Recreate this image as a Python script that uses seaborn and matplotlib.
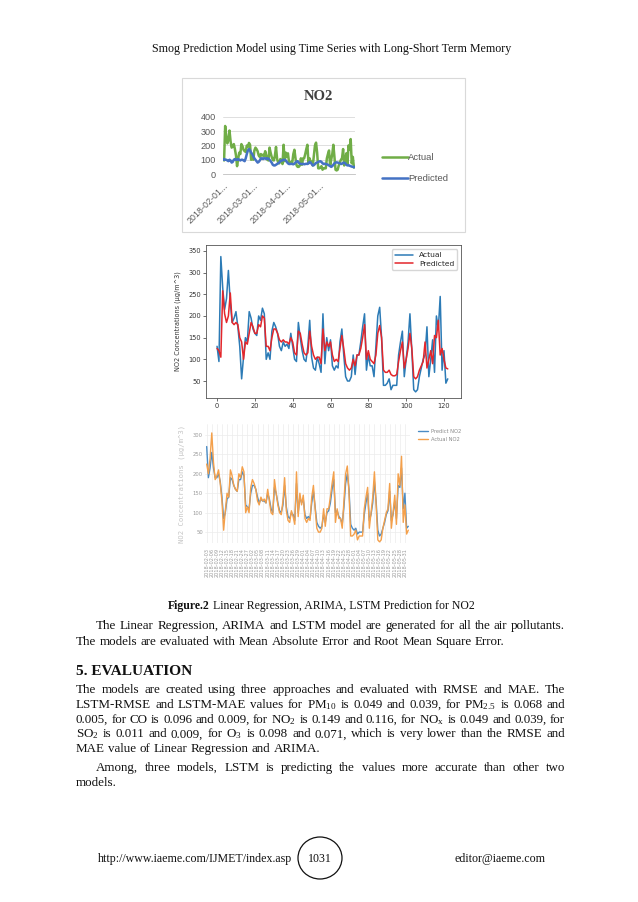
import numpy as np
import pandas as pd
import matplotlib
matplotlib.use("Agg")
import matplotlib.pyplot as plt
import seaborn as sns
from matplotlib.patches import Rectangle, Ellipse
from matplotlib.lines import Line2D

# ------------------------------------------------------------------ data
no2_actual = [
    130, 95, 337, 265, 215, 240, 305, 230, 185, 195,
    210, 175, 130, 55, 105, 150, 140, 210, 195, 170,
    160, 155, 200, 190, 218, 205, 100, 115, 100, 165,
    185, 175, 160, 130, 120, 140, 130, 135, 125, 160,
    130, 100, 95, 185, 150, 120, 100, 95, 130, 190,
    105, 80, 75, 105, 90, 70, 205, 90, 150, 120,
    145, 85, 75, 85, 80, 140, 170, 110, 60, 50,
    50, 60, 110, 65, 110, 110, 140, 175, 205, 75,
    110, 85, 85, 60, 130, 200, 220, 150, 40, 40,
    45, 55, 30, 40, 40, 40, 110, 140, 165, 60,
    100, 140, 205, 120, 30, 25, 30, 60, 80, 100,
    110, 175, 60, 100, 145, 70, 200, 170, 245, 75,
    120, 45, 55,
]
arima_pred = [
    125, 120, 105, 258, 205, 185, 200, 253, 185, 180,
    185, 180, 150, 140, 100, 140, 135, 160, 185, 175,
    160, 160, 180, 175, 200, 195, 130, 130, 120, 150,
    170, 170, 160, 145, 140, 145, 140, 140, 135, 150,
    140, 115, 110, 165, 160, 135, 115, 110, 115, 165,
    130, 110, 100, 105, 105, 90, 170, 120, 140, 130,
    140, 110, 95, 100, 95, 125, 155, 125, 90, 80,
    75, 80, 100, 85, 110, 110, 125, 150, 180, 100,
    120, 100, 95, 90, 110, 160, 178, 150, 75, 70,
    70, 75, 65, 62, 62, 65, 95, 120, 140, 80,
    100, 125, 160, 125, 60, 55, 60, 75, 85, 95,
    140, 80, 100, 120, 90, 155, 150, 190, 110, 125,
    100, 80, 78,
]
lr_pred = [
    100, 105, 100, 100, 95, 90, 100, 95, 80, 85,
    100, 105, 100, 100, 105, 100, 95, 100, 100, 95,
    90, 110, 140, 165, 175, 165, 150, 140, 125, 110,
    100, 90, 80, 85, 95, 110, 110, 105, 110, 110,
    105, 110, 108, 100, 90, 80, 65, 60, 60, 65,
    70, 75, 80, 90, 95, 95, 100, 100, 95, 85,
    75, 70, 70, 72, 70, 68, 72, 80, 88, 90,
    80, 72, 70, 70, 72, 68, 70, 72, 70, 75,
    85, 80, 70, 60, 62, 70, 78, 80, 85, 88,
    90, 85, 75, 70, 72, 70, 68, 65, 60, 55,
    50, 55, 65, 75, 80, 82, 80, 78, 75, 70,
    72, 78, 80, 75, 65, 60, 62, 58, 55, 52,
    50, 48, 50,
]
lstm_actual = [
    225, 200, 240, 305, 230, 185, 195, 210, 175, 130,
    55, 105, 150, 140, 210, 195, 170, 160, 155, 200,
    190, 218, 205, 100, 115, 100, 165, 185, 175, 160,
    130, 120, 140, 130, 135, 125, 160, 130, 100, 95,
    185, 150, 120, 100, 95, 130, 190, 105, 80, 75,
    105, 90, 70, 205, 90, 150, 120, 145, 85, 75,
    85, 80, 140, 170, 110, 60, 50, 50, 60, 110,
    65, 110, 110, 140, 175, 205, 75, 110, 85, 85,
    60, 130, 200, 220, 150, 40, 40, 45, 55, 30,
    40, 40, 40, 110, 140, 165, 60, 100, 140, 205,
    120, 30, 25, 30, 60, 80, 100, 110, 175, 60,
    100, 145, 70, 200, 170, 245, 75, 120, 45, 55,
]
lstm_pred = [
    270, 190, 215, 255, 215, 190, 190, 200, 180, 140,
    85, 100, 135, 140, 190, 185, 170, 160, 155, 185,
    185, 205, 195, 120, 115, 110, 150, 170, 170, 160,
    140, 125, 135, 130, 130, 125, 150, 135, 110, 100,
    165, 150, 125, 105, 100, 120, 170, 115, 90, 85,
    100, 95, 80, 175, 100, 140, 125, 135, 95, 85,
    90, 85, 125, 155, 115, 75, 65, 60, 65, 95,
    75, 100, 105, 125, 160, 185, 100, 105, 90, 85,
    70, 115, 175, 200, 160, 70, 60, 55, 60, 45,
    50, 50, 50, 95, 125, 150, 80, 95, 125, 180,
    130, 55, 40, 45, 60, 75, 95, 105, 155, 80,
    95, 130, 85, 170, 165, 215, 110, 150, 60, 65,
]
lr_tick_pos = [0, 28, 59, 89]
lr_tick_labels = ["2018-02-01...", "2018-03-01...", "2018-04-01...", "2018-05-01..."]
lstm_dates = [
    "2018-02-03", "2018-02-06", "2018-02-09", "2018-02-12", "2018-02-15",
    "2018-02-18", "2018-02-21", "2018-02-24", "2018-02-27", "2018-03-02",
    "2018-03-05", "2018-03-08", "2018-03-11", "2018-03-14", "2018-03-17",
    "2018-03-20", "2018-03-23", "2018-03-26", "2018-03-29", "2018-04-01",
    "2018-04-04", "2018-04-07", "2018-04-10", "2018-04-13", "2018-04-16",
    "2018-04-19", "2018-04-22", "2018-04-25", "2018-04-28", "2018-05-01",
    "2018-05-04", "2018-05-07", "2018-05-10", "2018-05-13", "2018-05-16",
    "2018-05-19", "2018-05-22", "2018-05-25", "2018-05-28", "2018-05-31",
]

# ------------------------------------------------------------------ setup
sns.set_style("white")
plt.rcParams["font.family"] = ["DejaVu Sans"]
plt.rcParams["mathtext.fontset"] = "custom"
plt.rcParams["mathtext.rm"] = "Liberation Serif"
plt.rcParams["mathtext.default"] = "regular"

W, H = 638, 902
fig = plt.figure(figsize=(W / 100, H / 100), dpi=100)
fig.patch.set_facecolor("white")


def fx(x):
    return x / W


def fy(y):
    return 1 - y / H


def ax_at(x0, y0, x1, y1):
    return fig.add_axes([x0 / W, 1 - y1 / H, (x1 - x0) / W, (y1 - y0) / H])


def long_df(x, series):
    rows = []
    for name, vals in series:
        rows.append(pd.DataFrame({"x": x[:len(vals)], "value": vals, "series": name}))
    return pd.concat(rows, ignore_index=True)


# ------------------------------------------------------------------ chart 1 (Excel style, Linear Regression)
fig.add_artist(Rectangle((fx(182), fy(232)), (465 - 182) / W, (232 - 78) / H,
                         transform=fig.transFigure, fill=False,
                         edgecolor="#d9d9d9", lw=0.8))
ax1 = ax_at(223, 117, 355, 174)
x1 = np.arange(len(no2_actual))
df1 = long_df(x1, [("Actual", no2_actual), ("Predicted", lr_pred)])
sns.lineplot(data=df1, x="x", y="value", hue="series", hue_order=["Actual", "Predicted"],
             palette={"Actual": "#70ad47", "Predicted": "#4472c4"}, lw=1.8,
             ax=ax1, legend=False)
ax1.set_xlim(0, 122)
ax1.set_ylim(0, 400)
ax1.set_yticks([0, 100, 200, 300, 400])
ax1.grid(axis="y", color="#d9d9d9", lw=0.6)
ax1.grid(axis="x", visible=False)
ax1.set_axisbelow(True)
for s in ["top", "right", "left"]:
    ax1.spines[s].set_visible(False)
ax1.spines["bottom"].set_color("#bfbfbf")
ax1.spines["bottom"].set_linewidth(0.6)
ax1.set_xticks(lr_tick_pos)
ax1.set_xticklabels(lr_tick_labels, rotation=45, ha="right", rotation_mode="anchor",
                    family="Liberation Sans")
for lab in ax1.get_yticklabels():
    lab.set_family("Liberation Sans")
ax1.tick_params(axis="y", length=0, labelsize=6.6, labelcolor="#595959", pad=5)
ax1.tick_params(axis="x", length=3, width=0.6, color="#bfbfbf", labelsize=6.4,
                labelcolor="#595959", pad=2)
ax1.set_xlabel("")
ax1.set_ylabel("")
ax1.set_facecolor("none")
fig.text(fx(318), fy(97), "NO2", ha="center", va="center", fontsize=10.5,
         fontweight="bold", family="Liberation Serif", color="#404040")
h1 = [Line2D([], [], color="#70ad47", lw=1.8), Line2D([], [], color="#4472c4", lw=1.8)]
fig.legend(h1, ["Actual", "Predicted"], loc="upper left",
           bbox_to_anchor=(fx(382), fy(153)), frameon=False,
           prop={"family": "Liberation Sans", "size": 6.8}, handlelength=2.7,
           handletextpad=0.1, labelspacing=1.25, labelcolor="#595959",
           borderpad=0, borderaxespad=0)

# ------------------------------------------------------------------ chart 2 (ARIMA)
ax2 = ax_at(205.7, 245.3, 461, 397.7)
df2 = long_df(x1, [("Actual", no2_actual), ("Predicted", arima_pred)])
sns.lineplot(data=df2, x="x", y="value", hue="series", hue_order=["Actual", "Predicted"],
             palette={"Actual": "#2c7bb6", "Predicted": "#e3262b"}, lw=1.1,
             ax=ax2, legend=False)
ax2.set_xlim(-6, 129)
ax2.set_ylim(11.5, 363)
ax2.set_yticks(range(50, 351, 50))
ax2.set_xticks(range(0, 121, 20))
ax2.tick_params(labelsize=4.8, length=2, width=0.5, pad=1.5, colors="#333333",
                left=True, bottom=True)
for s in ax2.spines.values():
    s.set_linewidth(0.6)
    s.set_color("#555555")
ax2.set_xlabel("")
ax2.set_ylabel("NO2 Concentrations (µg/m^3)", fontsize=4.7, color="#333333")
ax2.yaxis.set_label_coords((181 - 205.7) / (461 - 205.7), 0.5)
h2 = [Line2D([], [], color="#2c7bb6", lw=1.1), Line2D([], [], color="#e3262b", lw=1.1)]
ax2.legend(h2, ["Actual", "Predicted"], loc="upper right", fontsize=5.4,
           handlelength=2.4, handletextpad=0.8, labelspacing=0.3,
           borderpad=0.4, borderaxespad=0.5, framealpha=0.8, edgecolor="#cccccc")

# ------------------------------------------------------------------ chart 3 (LSTM)
ax3 = ax_at(205, 424, 410, 543)
x3 = np.arange(len(lstm_actual))
df3 = long_df(x3, [("Predict NO2", lstm_pred), ("Actual NO2", lstm_actual)])
sns.lineplot(data=df3, x="x", y="value", hue="series",
             hue_order=["Predict NO2", "Actual NO2"],
             palette={"Predict NO2": "#4a8bc4", "Actual NO2": "#f4a04b"}, lw=1.0,
             ax=ax3, legend=False)
ax3.set_xlim(-1, 120)
ax3.set_ylim(22, 328)
ax3.set_yticks([50, 100, 150, 200, 250, 300])
ax3.set_xticks(np.arange(0, 3 * len(lstm_dates), 3))
ax3.set_xticklabels(lstm_dates, rotation=90)
ax3.grid(True, color="#ececec", lw=0.5)
ax3.set_axisbelow(True)
for s in ax3.spines.values():
    s.set_visible(False)
ax3.tick_params(axis="x", length=0, labelsize=3.6, labelcolor="#9a9a9a", pad=3.6)
ax3.tick_params(axis="y", length=0, labelsize=3.8, labelcolor="#9a9a9a", pad=1.5)
ax3.set_xlabel("")
ax3.set_ylabel("NO2 Concentrations (µg/m^3)", fontsize=5.2, color="#c5c5c5",
               family="DejaVu Sans Mono")
ax3.yaxis.set_label_coords((185 - 205) / (410 - 205), 0.5)
h3 = [Line2D([], [], color="#4a8bc4", lw=1.0), Line2D([], [], color="#f4a04b", lw=1.0)]
fig.legend(h3, ["Predict NO2", "Actual NO2"], loc="upper left",
           bbox_to_anchor=(fx(418), fy(429)), frameon=False, fontsize=3.7,
           handlelength=2.0, handletextpad=0.5, labelspacing=0.6,
           labelcolor="#8a8a8a", borderpad=0, borderaxespad=0)

# ------------------------------------------------------------------ page text
SERIF = "Liberation Serif"
renderer = fig.canvas.get_renderer()


def text_width(s, fs, weight="normal"):
    t = fig.text(0, 0, s, fontsize=fs, family=SERIF, fontweight=weight)
    w = t.get_window_extent(renderer=renderer).width
    t.remove()
    return w


def fit_size(s, target, weight="normal"):
    return 10 * target / text_width(s, 10, weight)


def put(x, yc, s, fs, weight="normal", ha="left"):
    base = yc + 0.30 * fs * 100 / 72
    fig.text(fx(x), fy(base), s, fontsize=fs, family=SERIF, fontweight=weight,
             ha=ha, va="baseline", color="#111111")


def put_line(s, x0, x1, yc, fs, justify=True):
    words = s.split(" ")
    widths = [text_width(w, fs) for w in words]
    if justify and len(words) > 1:
        gap = (x1 - x0 - sum(widths)) / (len(words) - 1)
    else:
        gap = 0.25 * fs * 100 / 72
    x = x0
    for w, wd in zip(words, widths):
        put(x, yc, w, fs)
        x += wd + gap


# header
hdr = "Smog Prediction Model using Time Series with Long-Short Term Memory"
put(152, 48, hdr, fit_size(hdr, 360))

# caption
cap_b = "Figure.2"
cap_r = " Linear Regression, ARIMA, LSTM Prediction for NO2"
fs_cap = 10 * 308 / (text_width(cap_b, 10, "bold") + text_width(cap_r, 10))
wb = text_width(cap_b, fs_cap, "bold")
wr = text_width(cap_r, fs_cap)
cx0 = 321 - (wb + wr) / 2
put(cx0, 605, cap_b, fs_cap, "bold")
put(cx0 + wb, 605, cap_r, fs_cap)

# body
fs_body = fit_size("The models are evaluated with Mean Absolute Error and Root Mean Square Error.", 428)
L, R = 76, 565
put_line("The Linear Regression, ARIMA and LSTM model are generated for all the air pollutants.",
         96, R, 625, fs_body)
put_line("The models are evaluated with Mean Absolute Error and Root Mean Square Error.",
         L, R, 641, fs_body, justify=False)

head = "5. EVALUATION"
put(L, 670, head, fit_size(head, 116, "bold"), "bold")

body_lines = [
    "The models are created using three approaches and evaluated with RMSE and MAE. The",
    "LSTM-RMSE and LSTM-MAE values for PM$_{10}$ is 0.049 and 0.039, for PM$_{2.5}$ is 0.068 and",
    "0.005, for CO is 0.096 and 0.009, for NO$_{2}$ is 0.149 and 0.116, for NO$_{x}$ is 0.049 and 0.039, for",
    "SO$_{2}$ is 0.011 and 0.009, for O$_{3}$ is 0.098 and 0.071, which is very lower than the RMSE and",
]
for s, yc in zip(body_lines, [689, 704, 719, 733.6]):
    put_line(s, L, R, yc, fs_body)
put_line("MAE value of Linear Regression and ARIMA.", L, R, 748.4, fs_body, justify=False)

put_line("Among, three models, LSTM is predicting the values more accurate than other two",
         96, R, 767, fs_body)
put_line("models.", L, R, 782, fs_body, justify=False)

# footer
url = "http://www.iaeme.com/IJMET/index.asp"
fs_foot = fit_size(url, 194)
put(98, 858.5, url, fs_foot)
put(320, 858.5, "1031", fs_foot, ha="center")
put(454, 858.5, "editor@iaeme.com", fs_foot)
fig.add_artist(Ellipse((fx(320), fy(858)), 44 / W, 42 / H, transform=fig.transFigure,
                       fill=False, edgecolor="#111111", lw=0.9))

fig.savefig("out.png", dpi=100, facecolor="white")
